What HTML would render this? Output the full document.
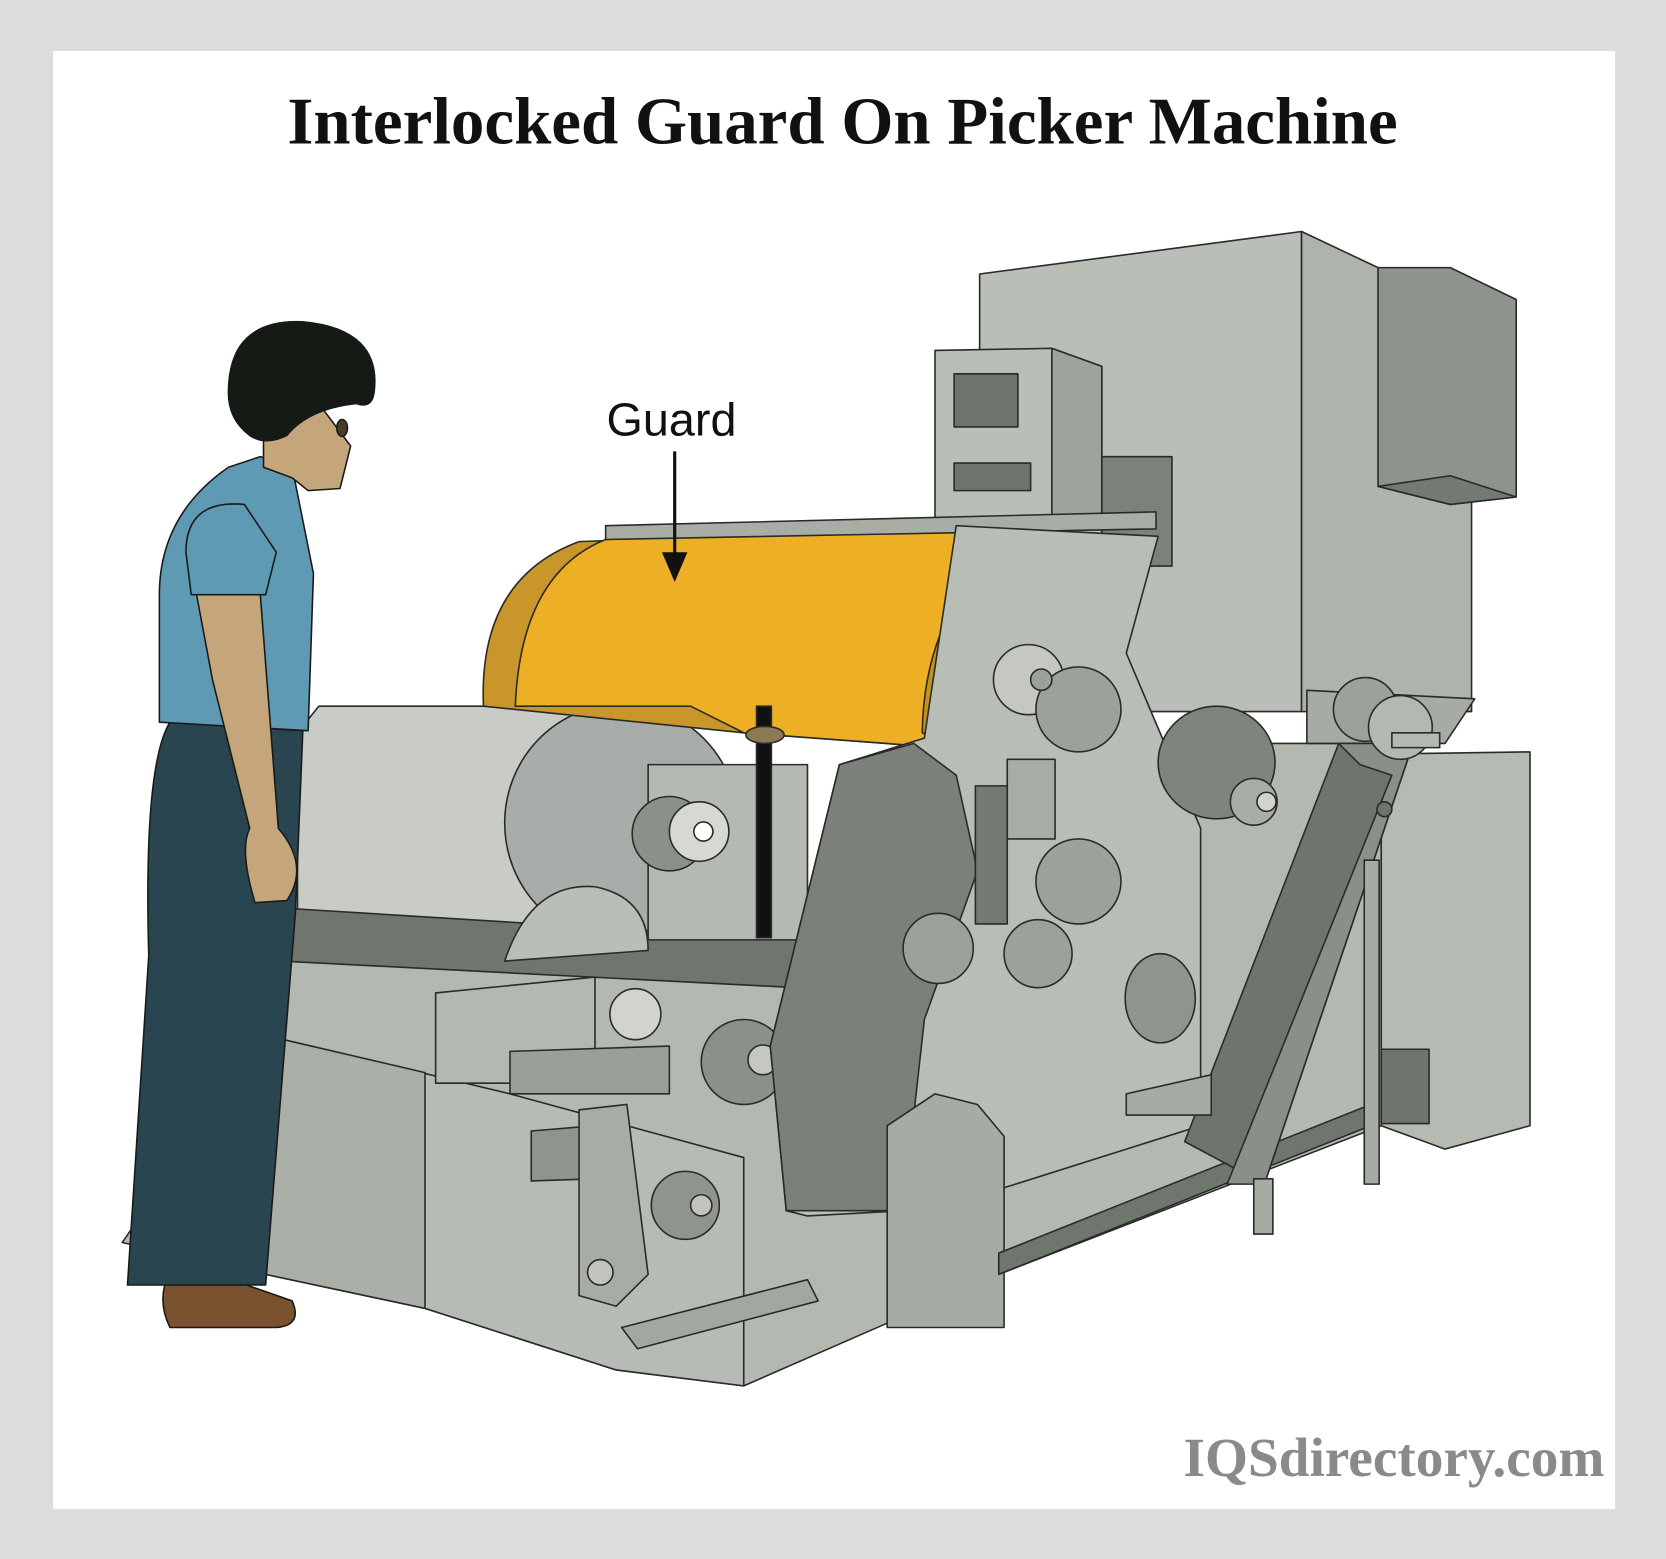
<!DOCTYPE html>
<html><head><meta charset="utf-8"><style>
html,body{margin:0;padding:0;background:#dcdcdc;}
svg{display:block;}
</style></head><body>
<svg width="1666" height="1559" viewBox="0 0 1568 1468" preserveAspectRatio="none" xmlns="http://www.w3.org/2000/svg">
<rect x="0" y="0" width="1568" height="1468" fill="#dcdcdc"/>
<rect x="50" y="48" width="1470" height="1373" fill="#ffffff"/>
<text x="793" y="135" text-anchor="middle" font-family="Liberation Serif, serif" font-weight="bold" font-size="63" fill="#111">Interlocked Guard On Picker Machine</text>
<g stroke="#2a2a2a" stroke-width="1.5" stroke-linejoin="round">
<!-- tall block -->
<polygon points="922,258 1225,218 1225,670 922,670" fill="#b9beb6"/>
<polygon points="1225,218 1297,252 1385,270 1385,670 1225,670" fill="#aeb3ab"/>
<polygon points="1297,252 1365,252 1427,282 1427,468 1365,475 1297,458" fill="#8e948c"/>
<polygon points="1297,458 1365,448 1427,468 1365,475" fill="#737a71"/>
<!-- back body -->
<polygon points="265,860 760,880 1130,700 1300,700 1300,1060 940,1200 700,1305 580,1290 400,1232 250,1200" fill="#b3b8b0"/>
<!-- right lower box -->
<polygon points="1300,710 1440,708 1440,1060 1360,1082 1300,1060" fill="#b5bab2"/>
<polygon points="1230,650 1388,658 1360,700 1230,700" fill="#a6aba3"/>
<!-- control box -->
<polygon points="880,330 990,328 1037,345 1037,490 880,490" fill="#b9beb6"/>
<polygon points="990,328 1037,345 1037,490 990,490" fill="#9ea39b"/>
<rect x="898" y="352" width="60" height="50" fill="#6e746b"/>
<rect x="898" y="436" width="72" height="26" fill="#6e746b"/>
<rect x="1037" y="430" width="66" height="103" fill="#7c8279"/>
<!-- base left -->
<polygon points="115,1170 250,975 480,1030 700,1090 700,1305 580,1290 400,1232 250,1200" fill="#b7bbb5"/>
<polygon points="250,975 250,1200 400,1232 400,1010" fill="#aab0a8"/>
<!-- cotton roll -->
<polygon points="280,690 300,665 595,665 600,880 280,880" fill="#c8cbc6"/>
<ellipse cx="585" cy="775" rx="110" ry="112" fill="#a8adaa"/>
<polygon points="265,855 750,885 750,930 265,905" fill="#6f766d"/>
<!-- guard -->
<path d="M455,665 Q450,545 545,510 L970,495 L950,680 L900,705 L700,690 Z" fill="#c8962a"/>
<path d="M485,665 Q490,540 570,508 L970,495 L950,680 L900,705 L700,690 L650,665 Z" fill="#edb025"/>
<path d="M970,495 Q870,560 868,690 L900,705 L950,680 Z" fill="#c4921e"/>
<polygon points="570,495 1088,482 1088,498 570,508" fill="#a8ada5"/>
<!-- middle mech -->
<polygon points="610,720 760,720 760,885 610,885" fill="#b4b9b1"/>
<rect x="712" y="665" width="14" height="218" fill="#111"/>
<ellipse cx="720" cy="692" rx="18" ry="8" fill="#8c7a55"/>
<circle cx="630" cy="785" r="35" fill="#8b9189"/>
<circle cx="658" cy="783" r="28" fill="#d6d8d4"/>
<circle cx="662" cy="783" r="9" fill="#ffffff"/>
<path d="M475,905 Q500,830 560,835 Q610,845 610,895 Z" fill="#b9beb6"/>
<polygon points="410,935 560,920 560,1020 410,1020" fill="#b3b8b0"/>
<polygon points="480,990 630,985 630,1030 480,1030" fill="#9aa097"/>
<polygon points="500,1065 560,1060 560,1110 500,1112" fill="#8f958d"/>
<circle cx="645" cy="1135" r="32" fill="#8f958d"/>
<circle cx="660" cy="1135" r="10" fill="#c0c4bc"/>
<circle cx="700" cy="1000" r="40" fill="#8b9189"/>
<circle cx="718" cy="998" r="14" fill="#c4c8c0"/>
<circle cx="598" cy="955" r="24" fill="#d0d3ce"/>
<polygon points="545,1045 590,1040 610,1200 580,1230 545,1220" fill="#a7aca4"/>
<circle cx="565" cy="1198" r="12" fill="#c0c4bc"/>
<polygon points="585,1250 760,1205 770,1225 600,1270" fill="#a2a79f"/>
<!-- side frame -->
<polygon points="900,495 1090,505 1060,615 1130,780 1130,1060 940,1120 850,1140 760,1145 740,1140 725,985 790,720 870,695" fill="#b8bdb5"/>
<polygon points="790,720 860,700 900,730 920,820 870,960 850,1140 740,1140 725,985" fill="#7b8179"/>
<circle cx="968" cy="640" r="33" fill="#c4c8c0"/>
<circle cx="1015" cy="668" r="40" fill="#9ca199"/>
<circle cx="980" cy="640" r="10" fill="#9ca199"/>
<circle cx="1015" cy="830" r="40" fill="#9ca199"/>
<circle cx="883" cy="893" r="33" fill="#9ca199"/>
<circle cx="977" cy="898" r="32" fill="#9ca199"/>
<ellipse cx="1092" cy="940" rx="33" ry="42" fill="#8f958d"/>
<rect x="948" y="715" width="45" height="75" fill="#a7aca4"/>
<rect x="918" y="740" width="30" height="130" fill="#737a71"/>
<ellipse cx="1145" cy="718" rx="55" ry="53" fill="#7f857d"/>
<circle cx="1180" cy="755" r="22" fill="#a8ada5"/>
<circle cx="1192" cy="755" r="9" fill="#d0d3ce"/>
<polygon points="835,1060 880,1030 920,1040 945,1070 945,1250 835,1250" fill="#a6aba3"/>
<polygon points="940,1180 1290,1040 1290,1060 940,1200" fill="#6f766d"/>
<!-- right diagonal arm -->
<polygon points="1260,700 1330,700 1190,1115 1115,1075" fill="#6e756c"/>
<polygon points="1260,700 1280,720 1310,730 1155,1115 1190,1115 1330,700" fill="#8a9088"/>
<circle cx="1285" cy="668" r="30" fill="#9ca199"/>
<circle cx="1318" cy="685" r="30" fill="#b3b8b0"/>
<rect x="1310" y="690" width="45" height="14" fill="#b3b8b0"/>
<circle cx="1303" cy="762" r="7" fill="#6e756c"/>
<rect x="1284" y="810" width="14" height="305" fill="#a6aba3"/>
<rect x="1180" y="1110" width="18" height="52" fill="#a6aba3"/>
<rect x="1300" y="988" width="45" height="70" fill="#6e756c"/>
<polygon points="1060,1030 1140,1012 1140,1050 1060,1050" fill="#a6aba3"/>
</g>
<!-- person -->
<g stroke="#1a1a1a" stroke-width="1.5" stroke-linejoin="round">
<path d="M160,680 L285,688 L278,860 L250,1210 L120,1210 L140,900 Q135,720 160,680 Z" fill="#29454f"/>
<path d="M155,1210 L232,1210 L275,1225 Q285,1248 260,1250 L160,1250 Q150,1230 155,1210 Z" fill="#7b5230"/>
<path d="M215,440 L245,430 L275,440 L295,540 L290,688 L150,680 L150,560 Q150,485 215,440 Z" fill="#5f9ab5"/>
<path d="M248,400 L300,380 L330,420 L320,460 L290,462 L275,450 L248,440 Z" fill="#c5a67a"/>
<path d="M185,560 L245,560 L262,780 Q292,815 270,848 L240,850 Q225,800 235,780 L200,640 Z" fill="#c5a67a"/>
<path d="M175,520 Q175,470 230,475 L260,520 L250,560 L180,560 Z" fill="#5f9ab5"/>
<path d="M215,370 Q215,300 285,303 Q360,310 352,370 Q350,385 335,380 Q290,385 270,410 Q250,420 235,410 Q215,395 215,370 Z" fill="#141a14"/>
<ellipse cx="322" cy="403" rx="5" ry="8" fill="#4a3a28"/>
</g>
<!-- label -->
<text x="632" y="410" text-anchor="middle" font-family="Liberation Sans, sans-serif" font-size="44" fill="#111">Guard</text>
<line x1="635" y1="425" x2="635" y2="528" stroke="#111" stroke-width="3"/>
<polygon points="623,520 647,520 635,548" fill="#111"/>
<text x="1510" y="1390" text-anchor="end" font-family="Liberation Serif, serif" font-weight="bold" font-size="52" fill="#8a8a8a">IQSdirectory.com</text>
</svg>
</body></html>
